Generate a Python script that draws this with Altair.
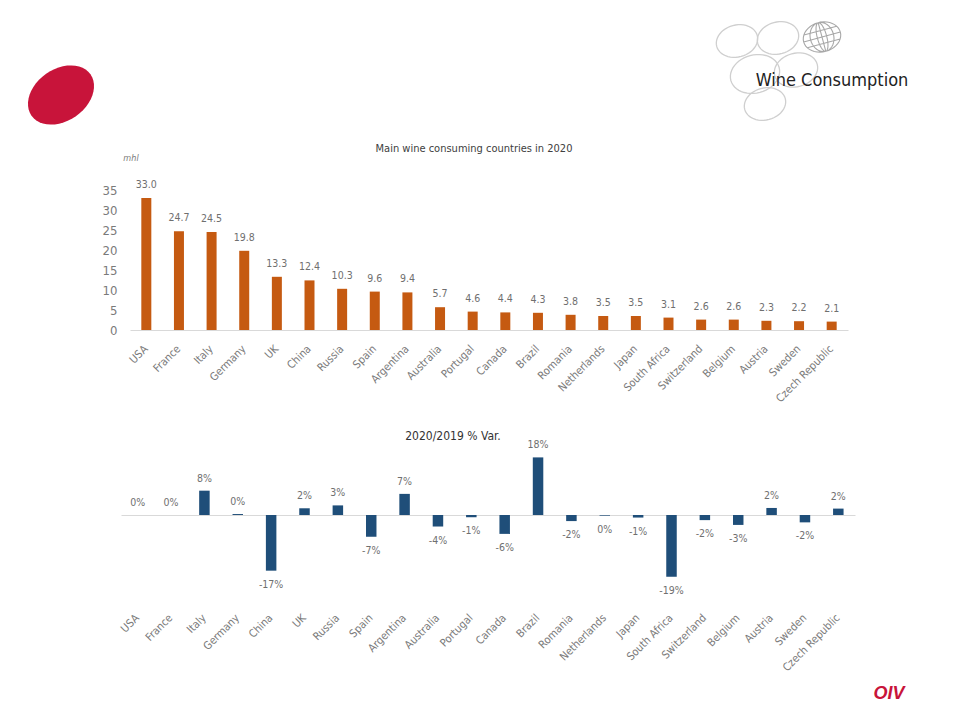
import altair as alt
import pandas as pd
import numpy as np

# ---------------- data ----------------
countries_2020 = ["USA", "France", "Italy", "Germany", "UK", "China", "Russia", "Spain",
                  "Argentina", "Australia", "Portugal", "Canada", "Brazil", "Romania",
                  "Netherlands", "Japan", "South Africa", "Switzerland", "Belgium",
                  "Austria", "Sweden", "Czech Republic"]
consumption_mhl = [33.0, 24.7, 24.5, 19.8, 13.3, 12.4, 10.3, 9.6, 9.4, 5.7, 4.6, 4.4,
                   4.3, 3.8, 3.5, 3.5, 3.1, 2.6, 2.6, 2.3, 2.2, 2.1]

countries_var = ["USA", "France", "Italy", "Germany", "China", "UK", "Russia", "Spain",
                 "Argentina", "Australia", "Portugal", "Canada", "Brazil", "Romania",
                 "Netherlands", "Japan", "South Africa", "Switzerland", "Belgium",
                 "Austria", "Sweden", "Czech Republic"]
variation_pct = [0.0, 0.0, 7.6, 0.3, -17.4, 2.1, 3.0, -6.8, 6.6, -3.6, -0.7, -5.9,
                 18.0, -1.9, -0.2, -0.8, -19.3, -1.6, -3.1, 2.2, -2.3, 2.0]

y_ticks_top = [0, 5, 10, 15, 20, 25, 30, 35]


def pct_label(v):
    r = int(round(v))
    return f"{r}%" if r != 0 else "0%"


df_top = pd.DataFrame({"country": countries_2020, "value": consumption_mhl})
df_top["label"] = [f"{v:.1f}" for v in consumption_mhl]

df_bot = pd.DataFrame({"country": countries_var, "value": variation_pct})
df_bot["label"] = [pct_label(v) for v in variation_pct]
df_bot["pos"] = df_bot["value"] >= 0

# ---------------- styles ----------------
FONT = "Liberation Sans Narrow, DejaVu Sans Condensed, Roboto Condensed, sans-serif"
ORANGE = "#C55A11"
BLUE = "#1F4E79"
LABEL_GREY = "#7a7a7a"
RED = "#C8143A"

# ---------------- top chart ----------------
x_top = alt.X("country:N", sort=countries_2020, title=None,
              scale=alt.Scale(range=[130, 848], paddingInner=0, paddingOuter=0),
              axis=alt.Axis(orient="bottom", offset=-390, labelAngle=-45,
                            labelAlign="right", labelBaseline="middle",
                            labelPadding=17, ticks=False, domain=True,
                            domainColor="#d9d9d9", domainWidth=1.2,
                            labelFontSize=11, labelColor=LABEL_GREY, labelFont=FONT))
y_top = alt.Y("value:Q", title=None,
              scale=alt.Scale(domain=[0, 35], range=[330, 190], nice=False),
              axis=alt.Axis(orient="left", offset=-122, values=y_ticks_top,
                            domain=False, ticks=False, grid=False, labelPadding=5,
                            labelFontSize=13, labelColor=LABEL_GREY, labelFont=FONT))

top_bars = alt.Chart(df_top).mark_bar(color=ORANGE, size=10).encode(x=x_top, y=y_top)
top_text = alt.Chart(df_top).mark_text(
    baseline="bottom", dy=-8, font=FONT, fontSize=10.5, color="#6f6f6f"
).encode(x=x_top, y=y_top, text="label:N")
top = alt.layer(top_bars, top_text)

# ---------------- bottom chart ----------------
x_bot = alt.X("country:N", sort=countries_var, title=None,
              scale=alt.Scale(range=[121, 855], paddingInner=0, paddingOuter=0),
              axis=alt.Axis(orient="bottom", offset=-205, labelAngle=-45,
                            labelAlign="right", labelBaseline="middle",
                            labelPadding=101, ticks=False, domain=True,
                            domainColor="#d9d9d9", domainWidth=1.2,
                            labelFontSize=11, labelColor=LABEL_GREY, labelFont=FONT))
y_bot = alt.Y("value:Q", title=None,
              scale=alt.Scale(domain=[-20, 20], range=[579, 451], nice=False),
              axis=None)

bot_bars = alt.Chart(df_bot).mark_bar(color=BLUE, size=10.5).encode(x=x_bot, y=y_bot)
bot_text_pos = alt.Chart(df_bot).transform_filter("datum.pos").mark_text(
    baseline="bottom", dy=-7, font=FONT, fontSize=10.5, color="#6f6f6f"
).encode(x=x_bot, y=y_bot, text="label:N")
bot_text_neg = alt.Chart(df_bot).transform_filter("!datum.pos").mark_text(
    baseline="top", dy=9, font=FONT, fontSize=10.5, color="#6f6f6f"
).encode(x=x_bot, y=y_bot, text="label:N")
bottom = alt.layer(bot_bars, bot_text_pos, bot_text_neg)

# ---------------- decorations (titles, logos) ----------------
one = pd.DataFrame({"k": [0]})


def text_mark(txt, x, y, size, color, **kw):
    return alt.Chart(one).mark_text(
        text=txt, fontSize=size, color=color, font=kw.pop("font", FONT),
        align=kw.pop("align", "center"), baseline="middle", **kw
    ).encode(x=alt.value(x), y=alt.value(y))


def ellipse_path(ratio, n=48):
    t = np.linspace(0, 2 * np.pi, n, endpoint=False)
    pts = [f"{np.cos(a):.3f} {ratio * np.sin(a):.3f}" for a in t]
    return "M " + " L ".join(pts) + " Z"


def globe_path(ratio, n=40):
    t = np.linspace(0, 2 * np.pi, n, endpoint=False)
    parts = []
    for sx in (1.0, 0.62, 0.25):
        pts = [f"{sx * np.cos(a):.3f} {ratio * np.sin(a):.3f}" for a in t]
        parts.append("M " + " L ".join(pts) + " Z")
    parts.append(f"M 0 {-ratio:.3f} L 0 {ratio:.3f}")
    for yy in (-0.45, 0.0, 0.45):
        xx = np.sqrt(max(0.0, 1 - (yy) ** 2))
        parts.append(f"M {-xx:.3f} {yy * ratio:.3f} L {xx:.3f} {yy * ratio:.3f}")
    return " ".join(parts)


def shape_mark(path, x, y, rx, angle, **kw):
    return alt.Chart(one).mark_point(shape=path, size=(2 * rx) ** 2, **kw).encode(
        x=alt.value(x), y=alt.value(y), angle=alt.value(angle))


decor = [
    # red disc top-left
    shape_mark(ellipse_path(0.72), 61, 95, 36, 325, filled=True, color=RED, opacity=1),
]
grape_style = dict(filled=False, stroke="#cfcfcf", strokeWidth=1.3, opacity=1)
for (cx, cy, rx) in [(737, 41, 21), (778, 38, 21), (755, 74, 25), (796, 70, 22), (765, 104, 21)]:
    decor.append(shape_mark(ellipse_path(0.76), cx, cy, rx, 345, **grape_style))
decor.append(shape_mark(globe_path(0.78), 822, 37, 19, 345, filled=False,
                        stroke="#a8a8a8", strokeWidth=1.1, opacity=1))

decor += [
    text_mark("Wine Consumption", 832, 81, 18, "#222222"),
    text_mark("Main wine consuming countries in 2020", 474, 149, 11, "#404040"),
    text_mark("mhl", 131, 158, 9, "#7a7a7a", fontStyle="italic"),
    text_mark("2020/2019 % Var.", 453, 436, 12, "#333333"),
    text_mark("OIV", 889, 694, 18, RED, font="Liberation Sans, Arial, sans-serif",
              fontStyle="italic", fontWeight="bold"),
]

chart = alt.layer(top, bottom, *decor).resolve_scale(
    x="independent", y="independent"
).properties(
    width=960, height=720, padding=0,
    autosize=alt.AutoSizeParams(type="none"),
    background="white",
).configure_view(strokeWidth=0)

chart.save("out.html", embed_options={"renderer": "svg", "actions": False})
